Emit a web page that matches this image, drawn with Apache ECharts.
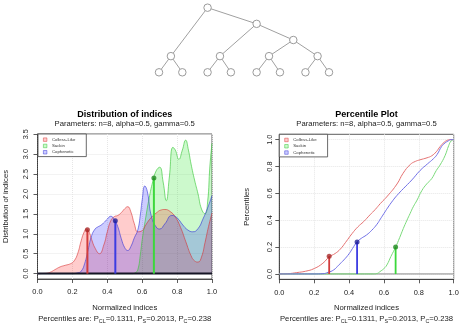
<!DOCTYPE html>
<html><head><meta charset="utf-8">
<script src="https://cdn.jsdelivr.net/npm/echarts@6/dist/echarts.min.js"></script>
<style>html,body{margin:0;padding:0;background:#fff}#c{width:474px;height:327px}</style>
</head><body><div id="c"></div>
<script>
// ---------- data ----------
const seriesNames = ['Colless-Like', 'Sackin', 'Cophenetic'];

// tree (node x in leaf units, node height above leaves)
const treeNodeX = [2.0, 4.02, 5.53, 0.49, 2.51, 4.53, 6.53, 0, 0.96, 2.0, 2.96, 4.02, 4.98, 6.03, 7.0];
const treeNodeH = [4, 3, 2, 1, 1, 1, 1, 0, 0, 0, 0, 0, 0, 0, 0];
const treeLinks = [[0,3],[0,1],[1,4],[1,2],[2,5],[2,6],[3,7],[3,8],[4,9],[4,10],[5,11],[5,12],[6,13],[6,14]];

// densities
const clX = [0, 0.04, 0.07, 0.10, 0.13, 0.16, 0.19, 0.21, 0.23, 0.25, 0.265, 0.28, 0.295, 0.31, 0.33, 0.355, 0.38, 0.40, 0.42, 0.44, 0.46, 0.48, 0.50, 0.517, 0.535, 0.555, 0.575, 0.60, 0.62, 0.65, 0.68, 0.71, 0.73, 0.76, 0.79, 0.82, 0.85, 0.88, 0.90, 0.92, 0.94, 0.96, 0.98, 1.0];
const clY = [0, 0.005, 0.03, 0.1, 0.17, 0.21, 0.25, 0.32, 0.5, 0.82, 1.02, 1.12, 1.05, 0.86, 0.64, 0.5, 0.72, 1.05, 1.33, 1.43, 1.46, 1.53, 1.63, 1.68, 1.55, 1.25, 1.05, 1.08, 1.22, 1.4, 1.52, 1.6, 1.61, 1.56, 1.42, 1.16, 0.8, 0.45, 0.32, 0.29, 0.42, 0.78, 1.18, 1.52];

const sackX = [0, 0.54, 0.56, 0.575, 0.59, 0.60, 0.62, 0.64, 0.66, 0.68, 0.70, 0.72, 0.738, 0.755, 0.776, 0.79, 0.81, 0.83, 0.849, 0.865, 0.88, 0.90, 0.92, 0.94, 0.96, 0.975, 0.988, 1.0];
const sackY = [0, 0, 0.02, 0.1, 0.5, 0.85, 1.4, 1.9, 2.3, 2.58, 2.67, 2.3, 1.83, 2.4, 3.17, 3.1, 2.87, 3.1, 3.35, 3.1, 2.75, 2.35, 2.0, 1.62, 1.5, 1.8, 2.7, 3.27];

const cophX = [0, 0.2, 0.23, 0.25, 0.27, 0.29, 0.31, 0.33, 0.345, 0.365, 0.383, 0.40, 0.42, 0.44, 0.46, 0.48, 0.50, 0.517, 0.535, 0.555, 0.575, 0.59, 0.60, 0.615, 0.63, 0.652, 0.68, 0.70, 0.73, 0.77, 0.80, 0.833, 0.86, 0.89, 0.92, 0.948, 0.975, 1.0];
const cophY = [0, 0, 0.02, 0.06, 0.25, 0.6, 0.95, 1.12, 1.17, 1.22, 1.29, 1.37, 1.44, 1.36, 1.18, 0.88, 0.65, 0.58, 0.68, 0.9, 1.1, 1.5, 1.85, 2.2, 2.05, 1.45, 1.17, 1.12, 1.25, 1.46, 1.4, 1.22, 1.1, 1.05, 1.13, 1.37, 1.65, 1.96];

// cumulative (percentile plot)
const clCdfX = [0, 0.05, 0.10, 0.15, 0.20, 0.25, 0.287, 0.32, 0.35, 0.38, 0.417, 0.45, 0.484, 0.52, 0.55, 0.58, 0.62, 0.675, 0.71, 0.751, 0.78, 0.807, 0.847, 0.874, 0.90, 0.923, 0.945, 0.963, 0.98, 1.0];
const clCdfY = [0, 0.002, 0.01, 0.02, 0.04, 0.08, 0.128, 0.152, 0.185, 0.235, 0.30, 0.35, 0.39, 0.44, 0.48, 0.525, 0.58, 0.67, 0.75, 0.815, 0.838, 0.85, 0.865, 0.88, 0.91, 0.95, 0.98, 0.995, 1.0, 1.0];

const sackCdfX = [0, 0.54, 0.56, 0.577, 0.60, 0.617, 0.64, 0.667, 0.69, 0.711, 0.732, 0.75, 0.768, 0.79, 0.817, 0.845, 0.874, 0.90, 0.921, 0.95, 0.971, 0.985, 1.0];
const sackCdfY = [0, 0, 0.003, 0.017, 0.04, 0.067, 0.13, 0.2, 0.27, 0.338, 0.40, 0.45, 0.50, 0.55, 0.62, 0.67, 0.71, 0.77, 0.81, 0.88, 0.955, 0.99, 1.0];

const cophCdfX = [0, 0.20, 0.25, 0.28, 0.312, 0.34, 0.37, 0.40, 0.42, 0.445, 0.47, 0.50, 0.53, 0.56, 0.58, 0.60, 0.62, 0.65, 0.675, 0.711, 0.76, 0.807, 0.85, 0.883, 0.905, 0.931, 0.95, 0.968, 0.985, 1.0];
const cophCdfY = [0, 0, 0.002, 0.012, 0.03, 0.065, 0.104, 0.15, 0.19, 0.237, 0.265, 0.29, 0.325, 0.37, 0.41, 0.45, 0.49, 0.545, 0.585, 0.635, 0.70, 0.77, 0.82, 0.857, 0.89, 0.95, 0.975, 0.99, 1.0, 1.0];

// percentile markers: [Colless-Like, Sackin, Cophenetic]
const pctX = [0.286, 0.667, 0.446];
const densAtPct = [1.1, 2.4, 1.33];
const percentiles = [0.1311, 0.2013, 0.238];

// tick labels
const xTicks = [0, 0.2, 0.4, 0.6, 0.8, 1.0];
const yTicksDens = [0, 0.5, 1, 1.5, 2, 2.5, 3, 3.5];
const yTicksPct = [0, 0.2, 0.4, 0.6, 0.8, 1.0];

// ---------- styles ----------
const FONT = '"Liberation Sans", Arial, Helvetica, sans-serif';
const fill = ['rgba(255,0,0,0.2)', 'rgba(0,225,0,0.2)', 'rgba(0,0,255,0.2)'];
const edge = ['rgba(215,50,50,0.6)', 'rgba(60,200,60,0.65)', 'rgba(50,50,215,0.6)'];
const cdfCol = ['#e47272', '#7ada7a', '#7070e6'];
const segCol = ['#d23c3c', '#3cd83c', '#3c3ce2'];
const dotCol = ['#a82828', '#1f8a1f', '#202098'];

const zip = (xs, ys) => xs.map((x, i) => [x, ys[i]]);
const fmt1 = v => v.toFixed(1);

function xAxisFor(gi, name, labelMargin) {
  return {
    gridIndex: gi, type: 'value', min: 0, max: 1, interval: 0.2,
    axisLine: { show: true, onZero: false, lineStyle: { color: '#333', width: 0.8 } },
    axisTick: { show: true, length: 4, lineStyle: { color: '#333', width: 0.8 } },
    axisLabel: { show: true, formatter: fmt1, fontSize: 7.4, color: '#222', margin: labelMargin, fontFamily: FONT, showMinLabel: true, showMaxLabel: true },
    splitLine: { show: true, lineStyle: { color: '#e6e6e6', type: 'dotted', width: 1 } },
    name: name, nameLocation: 'middle', nameGap: 24.5,
    nameTextStyle: { fontSize: 7.7, color: '#222', fontFamily: FONT }
  };
}
function yAxisFor(gi, min, max, ticks, name, labelMargin, nameGap) {
  return {
    gridIndex: gi, type: 'value', min: min, max: max,
    axisLine: { show: true, onZero: false, lineStyle: { color: '#333', width: 0.8 } },
    axisTick: { show: true, length: 4, customValues: ticks, lineStyle: { color: '#333', width: 0.8 } },
    axisLabel: { show: true, customValues: ticks, formatter: fmt1, rotate: 90, fontSize: 7.4, color: '#222', margin: labelMargin, fontFamily: FONT },
    splitLine: { show: true, customValues: ticks, lineStyle: { color: '#e6e6e6', type: 'dotted', width: 1 } },
    name: name, nameLocation: 'middle', nameGap: nameGap, nameRotate: 90,
    nameTextStyle: { fontSize: 7.7, color: '#222', fontFamily: FONT }
  };
}

const legendData = seriesNames.map((n, i) => ({
  name: n, icon: 'rect',
  itemStyle: { color: fill[i], borderColor: edge[i], borderWidth: 0.8 }
}));
function legendFor(left, top) {
  return {
    left: left, top: top, orient: 'vertical', data: legendData,
    itemWidth: 3.5, itemHeight: 3.5, itemGap: 2,
    padding: [3.5, 11, 2.2, 5],
    borderColor: '#444', borderWidth: 0.8, backgroundColor: '#fff',
    textStyle: { fontSize: 4.3, color: '#333', fontFamily: FONT },
    selectedMode: false
  };
}

const series = [];
// tree
series.push({
  type: 'graph', coordinateSystem: 'cartesian2d', xAxisIndex: 0, yAxisIndex: 0,
  symbol: 'circle', symbolSize: 7.5, silent: true,
  data: treeNodeX.map((x, i) => [x, treeNodeH[i]]),
  links: treeLinks.map(l => ({ source: l[0], target: l[1] })),
  itemStyle: { color: '#fff', borderColor: '#9a9a9a', borderWidth: 1 },
  lineStyle: { color: '#a0a0a0', width: 1, opacity: 1, curveness: 0 },
  label: { show: false }
});

// densities: draw order Sackin, Colless-Like, Cophenetic
const densX = [clX, sackX, cophX], densY = [clY, sackY, cophY];
[1, 0, 2].forEach(i => {
  series.push({
    name: seriesNames[i], type: 'line', xAxisIndex: 1, yAxisIndex: 1,
    data: zip(densX[i], densY[i]), smooth: 0.5,
    showSymbol: false, silent: true,
    lineStyle: { color: edge[i], width: 1 },
    itemStyle: { color: edge[i] },
    areaStyle: { color: fill[i], opacity: 1 }
  });
});
// zero line (density)
series.push({
  type: 'line', xAxisIndex: 1, yAxisIndex: 1, data: [[0, 0], [1, 0]],
  showSymbol: false, silent: true, lineStyle: { color: '#151525', width: 2 }, z: 3
});
// percentile segments + dots (density)
[0, 2, 1].forEach(i => {
  series.push({
    type: 'line', xAxisIndex: 1, yAxisIndex: 1, data: [[pctX[i], 0], [pctX[i], densAtPct[i]]],
    showSymbol: false, silent: true, lineStyle: { color: segCol[i], width: 2 }, z: 4
  });
  series.push({
    type: 'scatter', xAxisIndex: 1, yAxisIndex: 1, data: [[pctX[i], densAtPct[i]]],
    symbolSize: 5, silent: true, itemStyle: { color: dotCol[i] }, z: 5
  });
});

// percentile plot
series.push({
  type: 'line', xAxisIndex: 2, yAxisIndex: 2, data: [[0, 0], [1, 0]],
  showSymbol: false, silent: true, lineStyle: { color: '#8a8a8a', width: 1 }
});
const cdfX = [clCdfX, sackCdfX, cophCdfX], cdfY = [clCdfY, sackCdfY, cophCdfY];
[0, 1, 2].forEach(i => {
  series.push({
    name: seriesNames[i], type: 'line', xAxisIndex: 2, yAxisIndex: 2,
    data: zip(cdfX[i], cdfY[i]), smooth: 0.5,
    showSymbol: false, silent: true,
    lineStyle: { color: cdfCol[i], width: 1 }, itemStyle: { color: cdfCol[i] }
  });
});
[0, 2, 1].forEach(i => {
  series.push({
    type: 'line', xAxisIndex: 2, yAxisIndex: 2, data: [[pctX[i], 0], [pctX[i], percentiles[i]]],
    showSymbol: false, silent: true, lineStyle: { color: segCol[i], width: 1.8 }, z: 4
  });
  series.push({
    type: 'scatter', xAxisIndex: 2, yAxisIndex: 2, data: [[pctX[i], percentiles[i]]],
    symbolSize: 5, silent: true, itemStyle: { color: dotCol[i] }, z: 5
  });
});

const subText = 'Parameters: n=8, alpha=0.5, gamma=0.5';
const pctText = '{n|Percentiles are: P}{s|CL}{n|=' + percentiles[0] + ', P}{s|S}{n|=' + percentiles[1] + ', P}{s|C}{n|=' + percentiles[2] + '}';
const rich = {
  n: { fontSize: 7.7, lineHeight: 11, fontFamily: FONT, fill: '#222', verticalAlign: 'middle' },
  s: { fontSize: 5.4, lineHeight: 6, fontFamily: FONT, fill: '#222', verticalAlign: 'bottom' }
};
function centerText(x, y, text, size, bold) {
  return { type: 'text', x: x, y: y, silent: true,
    style: { text: text, fontSize: size, fontWeight: bold ? 'bold' : 'normal', fontFamily: FONT, fill: bold ? '#000' : '#222', align: 'center', verticalAlign: 'middle' } };
}

const option = {
  animation: false,
  textStyle: { fontFamily: FONT },
  grid: [
    { left: 159, top: 7.7, width: 170, height: 64.6, show: false },
    { left: 37.5, top: 134, width: 174.5, height: 145, show: true, borderColor: '#333', borderWidth: 0.8 },
    { left: 279.3, top: 134.3, width: 174.4, height: 145, show: true, borderColor: '#333', borderWidth: 0.8 }
  ],
  xAxis: [
    { gridIndex: 0, type: 'value', min: 0, max: 7, show: false },
    xAxisFor(1, 'Normalized indices', 9.5),
    xAxisFor(2, 'Normalized indices', 10.2)
  ],
  yAxis: [
    { gridIndex: 0, type: 'value', min: 0, max: 4, show: false },
    yAxisFor(1, -0.135, 3.505, yTicksDens, 'Distribution of indices', 8.5, 27.5),
    yAxisFor(2, -0.04, 1.04, yTicksPct, 'Percentiles', 5.5, 28)
  ],
  legend: [legendFor(38, 134), legendFor(279.3, 134.3)],
  graphic: [
    centerText(124.7, 115, 'Distribution of indices', 9, true),
    centerText(124.7, 124.3, subText, 7.7, false),
    centerText(366.5, 115, 'Percentile Plot', 9, true),
    centerText(366.5, 124.3, subText, 7.7, false),
    { type: 'text', x: 124.7, y: 319, silent: true, style: { text: pctText, rich: rich, align: 'center', verticalAlign: 'middle', fontSize: 7.7, fontFamily: FONT } },
    { type: 'text', x: 366.5, y: 319, silent: true, style: { text: pctText, rich: rich, align: 'center', verticalAlign: 'middle', fontSize: 7.7, fontFamily: FONT } }
  ],
  series: series
};
const chart = echarts.init(document.getElementById('c'), null, { renderer: 'canvas' });
chart.setOption(option);
</script>
</body></html>
